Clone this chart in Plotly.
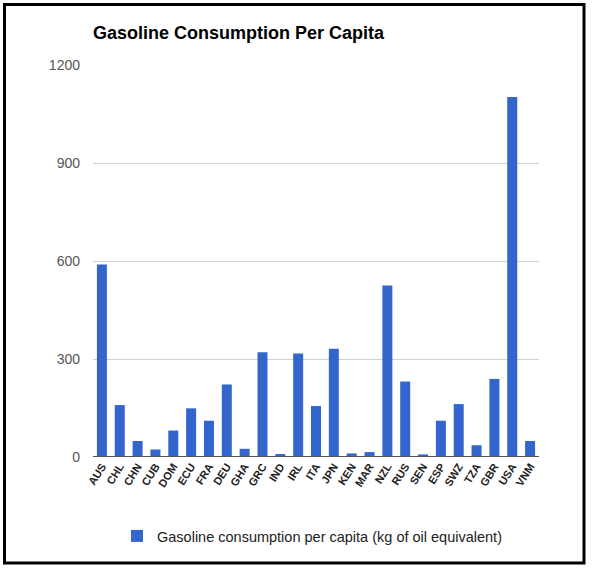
import plotly.graph_objects as go

countries = ["AUS", "CHL", "CHN", "CUB", "DOM", "ECU", "FRA", "DEU", "GHA", "GRC",
             "IND", "IRL", "ITA", "JPN", "KEN", "MAR", "NZL", "RUS", "SEN", "ESP",
             "SWZ", "TZA", "GBR", "USA", "VNM"]
values = [589, 159, 49, 23, 81, 149, 111, 222, 25, 321,
          9, 317, 156, 331, 11, 15, 525, 231, 8, 111,
          162, 36, 239, 1102, 49]
series_name = "Gasoline consumption per capita (kg of oil equivalent)"
y_ticks = [0, 300, 600, 900, 1200]

W, H = 592, 570
L, R, T, B = 93, 539, 65, 457  # plot area px

fig = go.Figure()
fig.add_trace(go.Bar(
    x=countries, y=values, name=series_name,
    marker=dict(color="#3366cc", line=dict(width=0)),
    showlegend=True,
))

def px_x(px):
    return (px - L) / (R - L)

def px_y(py):
    return (B - py) / (B - T)

FONT = "Arial, 'Liberation Sans', sans-serif"

fig.update_layout(
    width=W, height=H,
    margin=dict(l=L, r=W - R, t=T, b=H - B, autoexpand=False),
    paper_bgcolor="white", plot_bgcolor="white",
    bargap=0.44,
    font=dict(family=FONT, color="#222"),
    title=dict(text="<b>Gasoline Consumption Per Capita</b>",
               font=dict(size=18, color="#000", family=FONT),
               x=0.0, xref="paper", xanchor="left",
               y=1 - 33 / H, yref="container", yanchor="middle"),
    showlegend=True,
    legend=dict(orientation="h", x=px_x(312), xanchor="center", y=px_y(536), yanchor="middle",
                font=dict(size=14.5, color="#222", family=FONT), itemwidth=30,
                bgcolor="rgba(0,0,0,0)"),
    xaxis=dict(type="category", tickangle=-58,
               tickvals=countries, ticktext=["<b>" + c + "</b>" for c in countries],
               tickfont=dict(size=11, color="#222", family=FONT),
               showgrid=False, ticks="", showline=False, zeroline=False, automargin=False),
    yaxis=dict(range=[0, 1200], tickvals=y_ticks, ticktext=[str(v) for v in y_ticks],
               tickfont=dict(size=14, color="#555", family=FONT),
               showgrid=True, gridcolor="#d0d0d0", gridwidth=1, zeroline=False,
               showline=False, ticks="", ticklabelstandoff=12, automargin=False),
    shapes=[
        dict(type="line", xref="paper", yref="y", x0=0, x1=1, y0=0, y1=0,
             line=dict(color="#555", width=2)),
        dict(type="rect", xref="paper", yref="paper",
             x0=px_x(4.5), x1=px_x(584), y0=px_y(4.5), y1=px_y(563),
             line=dict(color="#000", width=3), fillcolor="rgba(0,0,0,0)", layer="above"),
    ],
)

fig.write_html("out.html")
